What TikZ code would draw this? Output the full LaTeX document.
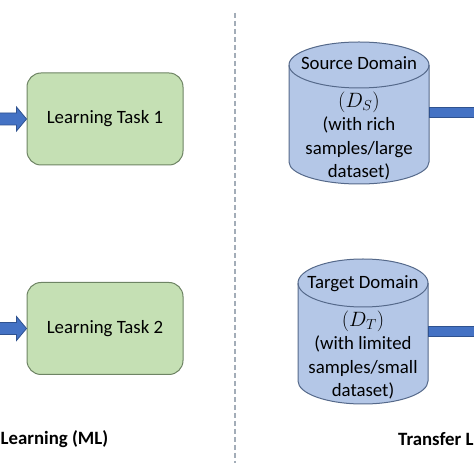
\documentclass[tikz,border=0pt]{standalone}
\usepackage{fontspec}
\setmainfont{Carlito}
\usetikzlibrary{calc}
\definecolor{boxfill}{HTML}{C5E0B4}
\definecolor{boxline}{HTML}{6E8464}
\definecolor{cylfill}{HTML}{B4C7E7}
\definecolor{cylline}{HTML}{55698A}
\definecolor{arrfill}{HTML}{4472C4}
\definecolor{arrline}{HTML}{2F528F}
\definecolor{dashcol}{HTML}{A3ADB8}
\begin{document}
\begin{tikzpicture}[x=1pt,y=1pt,
  taskbox/.style={draw=boxline,fill=boxfill,line width=1pt,rounded corners=14pt,
    minimum width=156pt,minimum height=92pt,inner sep=0pt,
    font=\fontsize{18.8}{22}\selectfont},
  cyl/.style={draw=cylline,fill=cylfill,line width=1pt},
  cyltext/.style={align=center,inner sep=0pt,font=\fontsize{18.8}{23.5}\selectfont},
  bluearrow/.style={draw=arrline,fill=arrfill,line width=0.8pt,line join=miter},
  bottomlabel/.style={inner sep=0pt,font=\fontsize{18.8}{22}\selectfont\bfseries},
  divider/.style={draw=dashcol,line width=1.6pt,dash pattern=on 5pt off 3pt}]
\useasboundingbox (0,0) rectangle (474,474);
\clip (0,0) rectangle (474,474);
\fill[white] (0,0) rectangle (474,474);

% left: learning tasks
\node[taskbox] (t1) at (105,355) {Learning Task 1};
\node[taskbox] (t2) at (105,145.5) {Learning Task 2};

\coordinate (a1) at (-10,355);
\coordinate (a2) at (-10,145.5);
\draw[bluearrow] ($(a1)+(0,-6)$) -- ($(t1.west)+(-10,-6)$) -- ($(t1.west)+(-10,-12)$)
  -- (t1.west) -- ($(t1.west)+(-10,12)$) -- ($(t1.west)+(-10,6)$) -- ($(a1)+(0,6)$) -- cycle;
\draw[bluearrow] ($(a2)+(0,-6)$) -- ($(t2.west)+(-10,-6)$) -- ($(t2.west)+(-10,-12)$)
  -- (t2.west) -- ($(t2.west)+(-10,12)$) -- ($(t2.west)+(-10,6)$) -- ($(a2)+(0,6)$) -- cycle;

% divider
\coordinate (d1) at (235,461);
\coordinate (d2) at (235,11);
\draw[divider] (d1) -- (d2);

% source domain cylinder
\path[cyl] (289,409) -- (289,312) arc (180:360:70 and 22) -- (429,409) arc (0:180:70 and 23) -- cycle;
\draw[cylline,line width=1pt] (289,409) arc (180:360:70 and 23);
\node[inner sep=0pt,minimum width=140pt,minimum height=142pt] (src) at (359,361) {};
\node[cyltext] (srct) at (359,411) {Source Domain};
\node[cyltext] (srcb) at (359,338) {{\fontsize{22}{23.5}\selectfont$(D_S)$}\\(with rich\\samples/large\\dataset)};

% target domain cylinder
\path[cyl] (298,191) -- (298,93) arc (180:360:65 and 23) -- (428,191) arc (0:180:65 and 24) -- cycle;
\draw[cylline,line width=1pt] (298,191) arc (180:360:65 and 24);
\node[inner sep=0pt,minimum width=130pt,minimum height=145pt] (tgt) at (363,142.5) {};
\node[cyltext] (tgtt) at (363,190) {Target Domain};
\node[cyltext] (tgtb) at (363,119) {{\fontsize{22}{23.5}\selectfont$(D_T)$}\\(with limited\\samples/small\\dataset)};

% outgoing bars
\coordinate (s1) at (429,362);
\coordinate (s2) at (484,362);
\draw[bluearrow] ($(s1)+(0,-5)$) rectangle ($(s2)+(0,5)$);
\coordinate (g1) at (428,143);
\coordinate (g2) at (484,143);
\draw[bluearrow] ($(g1)+(0,-5)$) rectangle ($(g2)+(0,5)$);

% bottom labels
\node[bottomlabel,anchor=west] (ml) at (0.5,35) {Learning (ML)};
\node[bottomlabel,anchor=west] (tl) at (398,35) {Transfer L};
\end{tikzpicture}
\end{document}
